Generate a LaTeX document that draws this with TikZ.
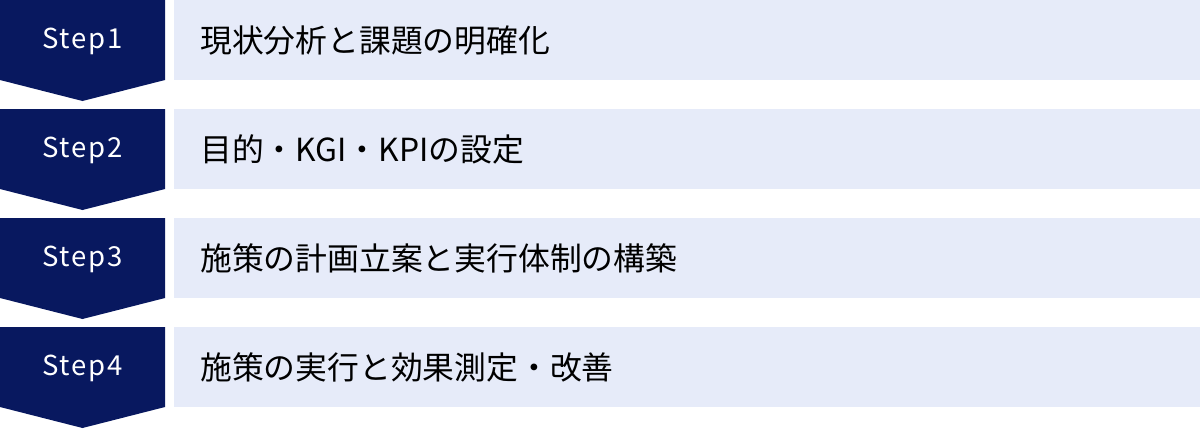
\documentclass[tikz,border=0pt]{standalone}
\usepackage{fontspec}
\setmainfont{Noto Sans CJK JP}
\newfontfamily\steplabelfont[LetterSpace=6]{Noto Sans CJK JP}
\definecolor{stepnavy}{HTML}{08185F}
\definecolor{barblue}{HTML}{E6EBF9}

\begin{document}
\begin{tikzpicture}[x=1pt,y=1pt,
	steptag/.style={fill=stepnavy},
	steptext/.style={text=white,font=\steplabelfont\fontsize{27.5}{27.5}\selectfont,inner sep=0pt},
	bar/.style={fill=barblue,minimum width=1026pt,minimum height=80pt,text width=974pt,align=left,inner xsep=26pt,font=\fontsize{31.8}{31.8}\selectfont,anchor=north west}]
	\useasboundingbox (0,0) rectangle (1200,-429);

	\fill[steptag] (0,0) -- (165,0) -- (165,-80) -- (82.5,-101) -- (0,-80) -- cycle;
	\node (step1) [steptext] at (82.5,-41) {Step1};
	\node (bar1) [bar] at (174,0) {現状分析と課題の明確化};

	\fill[steptag] (0,-109) -- (165,-109) -- (165,-189) -- (82.5,-210) -- (0,-189) -- cycle;
	\node (step2) [steptext] at (82.5,-150) {Step2};
	\node (bar2) [bar] at (174,-109) {目的・KGI・KPIの設定};

	\fill[steptag] (0,-218) -- (165,-218) -- (165,-298) -- (82.5,-319) -- (0,-298) -- cycle;
	\node (step3) [steptext] at (82.5,-259) {Step3};
	\node (bar3) [bar] at (174,-218) {施策の計画立案と実行体制の構築};

	\fill[steptag] (0,-327) -- (165,-327) -- (165,-407) -- (82.5,-428) -- (0,-407) -- cycle;
	\node (step4) [steptext] at (82.5,-368) {Step4};
	\node (bar4) [bar] at (174,-327) {施策の実行と効果測定・改善};
\end{tikzpicture}
\end{document}
